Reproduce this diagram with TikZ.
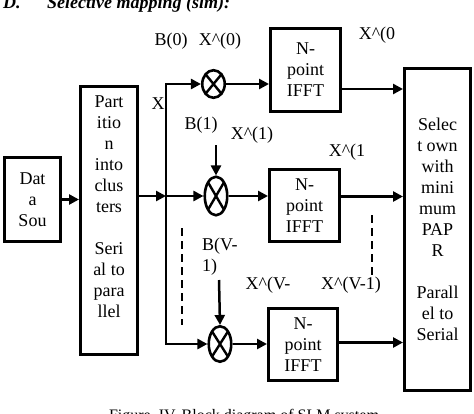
\documentclass[tikz,border=0pt]{standalone}
\usepackage{fontspec}
\setmainfont{Liberation Serif}
\usepackage{tikz}
\usetikzlibrary{arrows.meta, shapes.geometric, positioning}
\tikzstyle{block}=[rectangle, draw, line width=3pt, align=center, inner sep=0pt, font=\fontsize{18}{21}\selectfont]
\tikzstyle{mixer}=[ellipse, draw, line width=2.6pt, inner sep=0pt, minimum width=22.5pt,
  path picture={\draw[line width=2.4pt] (path picture bounding box.north west) -- (path picture bounding box.south east)
                  (path picture bounding box.north east) -- (path picture bounding box.south west);}]
\tikzstyle{sig}=[line width=2.5pt, -{Triangle[length=10pt,width=10pt]}]
\tikzstyle{wire}=[line width=2.5pt, line cap=rect]
\tikzstyle{dots}=[line width=2.8pt, dash pattern=on 8pt off 5pt]
\tikzstyle{txt}=[inner sep=0pt, font=\fontsize{18}{21}\selectfont]

\begin{document}
\begin{tikzpicture}[x=1pt, y=-1pt]
      \useasboundingbox (0,0) rectangle (474,413);

      % title and caption (cut by the page)
      \node[txt, anchor=base west, font=\fontsize{18}{21}\selectfont\bfseries\itshape] (hd) at (3,8) {D.};
      \node[txt, anchor=base west, font=\fontsize{18}{21}\selectfont\bfseries\itshape] (title) at (47,8) {Selective mapping (slm):};
      \node[txt, anchor=base, font=\fontsize{16}{21}\selectfont] (cap) at (244,420) {Figure\ \ IV. Block diagram of SLM system};

      % blocks
      \node[block, minimum width=56pt, minimum height=84pt] (src) at (32.5,199.5) {Dat\\a\\Sou};
      \node[block, minimum width=57pt, minimum height=268pt] (part) at (109,220.5) {};
      \node[txt, align=center, below=11pt of part.north] (parttxt) {Part\\itio\\n\\into\\clus\\ters\\[21pt]Seri\\al to\\para\\llel};
      \node[block, minimum width=70pt, minimum height=83pt] (ifft1) at (305.5,70) {N-\\point\\IFFT};
      \node[block, minimum width=70pt, minimum height=72pt] (ifft2) at (304.5,205.5) {N-\\point\\IFFT};
      \node[block, minimum width=69pt, minimum height=72pt] (ifft3) at (303,344.5) {N-\\point\\IFFT};
      \node[block, minimum width=66pt, minimum height=322pt] (sel) at (437.5,229.5) {Selec\\t own\\with\\mini\\mum\\PAP\\R\\[21pt]Parall\\el to\\Serial};

      % mixers
      \node[mixer, minimum height=27.5pt] (mul1) at (213.5,84) {};
      \node[mixer, minimum height=38.5pt] (mul2) at (216,196) {};
      \node[mixer, minimum height=35.5pt] (mul3) at (220,344) {};

      % bus
      \coordinate (bustop) at (166,84);
      \coordinate (busmid) at (166,196);
      \coordinate (busbot) at (166,344);
      \draw[wire] (bustop) -- (busbot);
      \draw[sig] (src.east) -- (src.east -| part.west);
      \draw[sig] (part.east |- busmid) -- (busmid);
      \draw[sig] (bustop) -- (mul1.west);
      \draw[sig] (busmid) -- (mul2.west);
      \draw[sig] (busbot) -- (mul3.west);

      \draw[sig] (mul1.east) -- (mul1.east -| ifft1.west);
      \draw[sig] (mul2.east) -- (mul2.east -| ifft2.west);
      \draw[sig] (mul3.east) -- (mul3.east -| ifft3.west);

      \path ([yshift=-19pt]ifft1.east) coordinate (o1);
      \path ([yshift=9pt]ifft2.east) coordinate (o2);
      \path ([yshift=2pt]ifft3.east) coordinate (o3);
      \draw[sig] (o1) -- (o1 -| sel.west);
      \draw[sig] (o2) -- (o2 -| sel.west);
      \draw[sig] (o3) -- (o3 -| sel.west);

      % phase inputs
      \coordinate (b1in) at (216,145);
      \coordinate (bvin) at (219,280);
      \draw[sig] (b1in) -- (mul2.north);
      \draw[sig] (bvin) -- (mul3.north);

      % dashed gaps
      \coordinate (dl1) at (182,228);
      \coordinate (dl2) at (182,325);
      \coordinate (dr1) at (372,215);
      \coordinate (dr2) at (372,278);
      \draw[dots] (dl1) -- (dl2);
      \draw[dots] (dr1) -- (dr2);

      % labels
      \node[txt, anchor=base] (lb0) at (171,45) {B(0)};
      \node[txt, anchor=base] (lx0) at (220,45) {X\textasciicircum(0)};
      \node[txt, anchor=base] (ly0) at (377,39) {X\textasciicircum(0};
      \node[txt, anchor=base] (lx) at (158,109) {X};
      \node[txt, anchor=base] (lb1) at (201,129) {B(1)};
      \node[txt, anchor=base] (lx1) at (252,139) {X\textasciicircum(1)};
      \node[txt, anchor=base] (ly1) at (347,156) {X\textasciicircum(1};
      \node[txt, align=left, anchor=north west] (lbv) at (202,238) {B(V-\\1)};
      \node[txt, anchor=base] (lxv) at (268,289) {X\textasciicircum(V-};
      \node[txt, anchor=base] (lyv) at (351,289) {X\textasciicircum(V-1)};
\end{tikzpicture}
\end{document}
